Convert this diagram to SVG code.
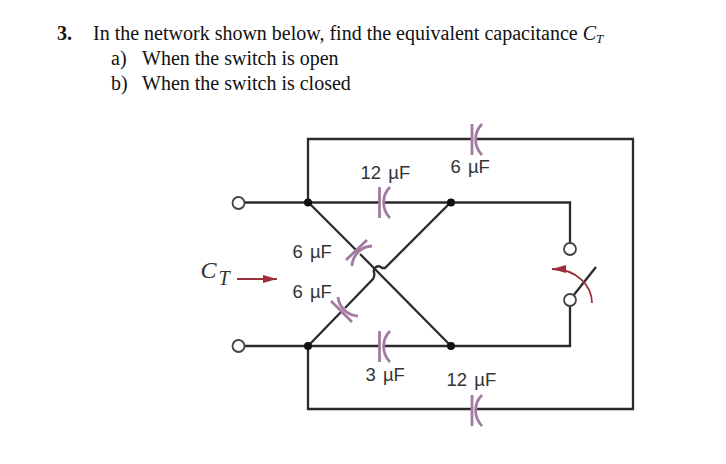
<svg xmlns="http://www.w3.org/2000/svg" width="726" height="464" viewBox="0 0 726 464">
<style>
.q{font-family:"Liberation Serif",serif;font-size:20px;fill:#111}
.l{font-family:"Liberation Sans",sans-serif;font-size:18.500px;word-spacing:2px;fill:#333}
.w{fill:none;stroke:#2b2b2b;stroke-width:2.300}
.c{fill:none;stroke:#a37ba0;stroke-width:2.800}
.r{fill:none;stroke:#9c2f3c;stroke-width:1.800}
.t{fill:#fff;stroke:#444;stroke-width:1.800}
.j{fill:#111}
</style>
<defs>
<marker id="a" markerUnits="userSpaceOnUse" markerWidth="15" markerHeight="10" refX="14" refY="4.500" orient="auto"><path d="M0 .5L14 4.500L0 8.500Z" fill="#9c2f3c"/></marker>
</defs>
<rect width="726" height="464" fill="#fff"/>
<g id="question">
<text class="q" x="57" y="40" font-weight="bold">3.</text>
<text class="q" x="93" y="40">In the network shown below, find the equivalent capacitance <tspan font-style="italic">C</tspan><tspan font-style="italic" font-size="13" dy="3">T</tspan></text>
<text class="q" x="111" y="65">a)</text>
<text class="q" x="142" y="65">When the switch is open</text>
<text class="q" x="111" y="90">b)</text>
<text class="q" x="142" y="90">When the switch is closed</text>
</g>
<g id="connectors">
<path class="w" d="M472 139H308V202M477 139H633V409H477M472 409H308V346"/>
<path class="w" d="M243 202.500H379M385 202.500H570V244"/>
<path class="w" d="M243 346H379M385 346H570V305"/>
<path class="w" d="M308 202L356 250M360 254L451 346"/>
<path class="w" d="M451 202L385 268H382Q379 265 376 267Q373 269 374 272Q375 276 373 279L345 308M341 312L308 346"/>
<path class="w" d="M573 296L596 267"/>
<path class="r" d="M592 303C592 286 577 269 552 269" marker-end="url(#a)"/>
<path class="r" d="M237 279H277" marker-end="url(#a)"/>
</g>
<g id="terminal-a"><circle class="t" cx="238.500" cy="203" r="6"/></g>
<g id="terminal-b"><circle class="t" cx="238.500" cy="346" r="6"/></g>
<g id="switch-top"><circle class="t" cx="570" cy="249" r="6"/></g>
<g id="switch-bottom"><circle class="t" cx="570" cy="300" r="6"/></g>
<g id="junction-1"><circle class="j" cx="308" cy="202.500" r="4"/></g>
<g id="junction-2"><circle class="j" cx="451" cy="202.500" r="4"/></g>
<g id="junction-3"><circle class="j" cx="308" cy="346" r="4"/></g>
<g id="junction-4"><circle class="j" cx="451" cy="346" r="4"/></g>
<g id="cap-12a"><path class="c" d="M379.500 187V218M390 187A22 22 0 0 0 390 218"/><text class="l" x="360.500" y="179">12 µF</text></g>
<g id="cap-6a"><path class="c" d="M472 124V155M482 124A22 22 0 0 0 482 155"/><text class="l" x="450.500" y="173">6 µF</text></g>
<g id="cap-6b"><path class="c" d="M346 260L367 240M352 266A21 21 0 0 1 372 246"/><text class="l" x="292.500" y="258">6 µF</text></g>
<g id="cap-6c"><path class="c" d="M331 301L352 322M338 297A21 21 0 0 0 358 316"/><text class="l" x="292.500" y="298">6 µF</text></g>
<g id="cap-3"><path class="c" d="M379.500 331V362M390 331A22 22 0 0 0 390 362"/><text class="l" x="365.500" y="381">3 µF</text></g>
<g id="cap-12b"><path class="c" d="M472 395V426M482 395A22 22 0 0 0 482 426"/><text class="l" x="446.500" y="386">12 µF</text></g>
<g id="ct-label"><text x="200.500" y="278" font-family="Liberation Serif,serif" font-style="italic" font-size="24" fill="#333">C<tspan font-size="20" dx="2" dy="7">T</tspan></text></g>
</svg>
